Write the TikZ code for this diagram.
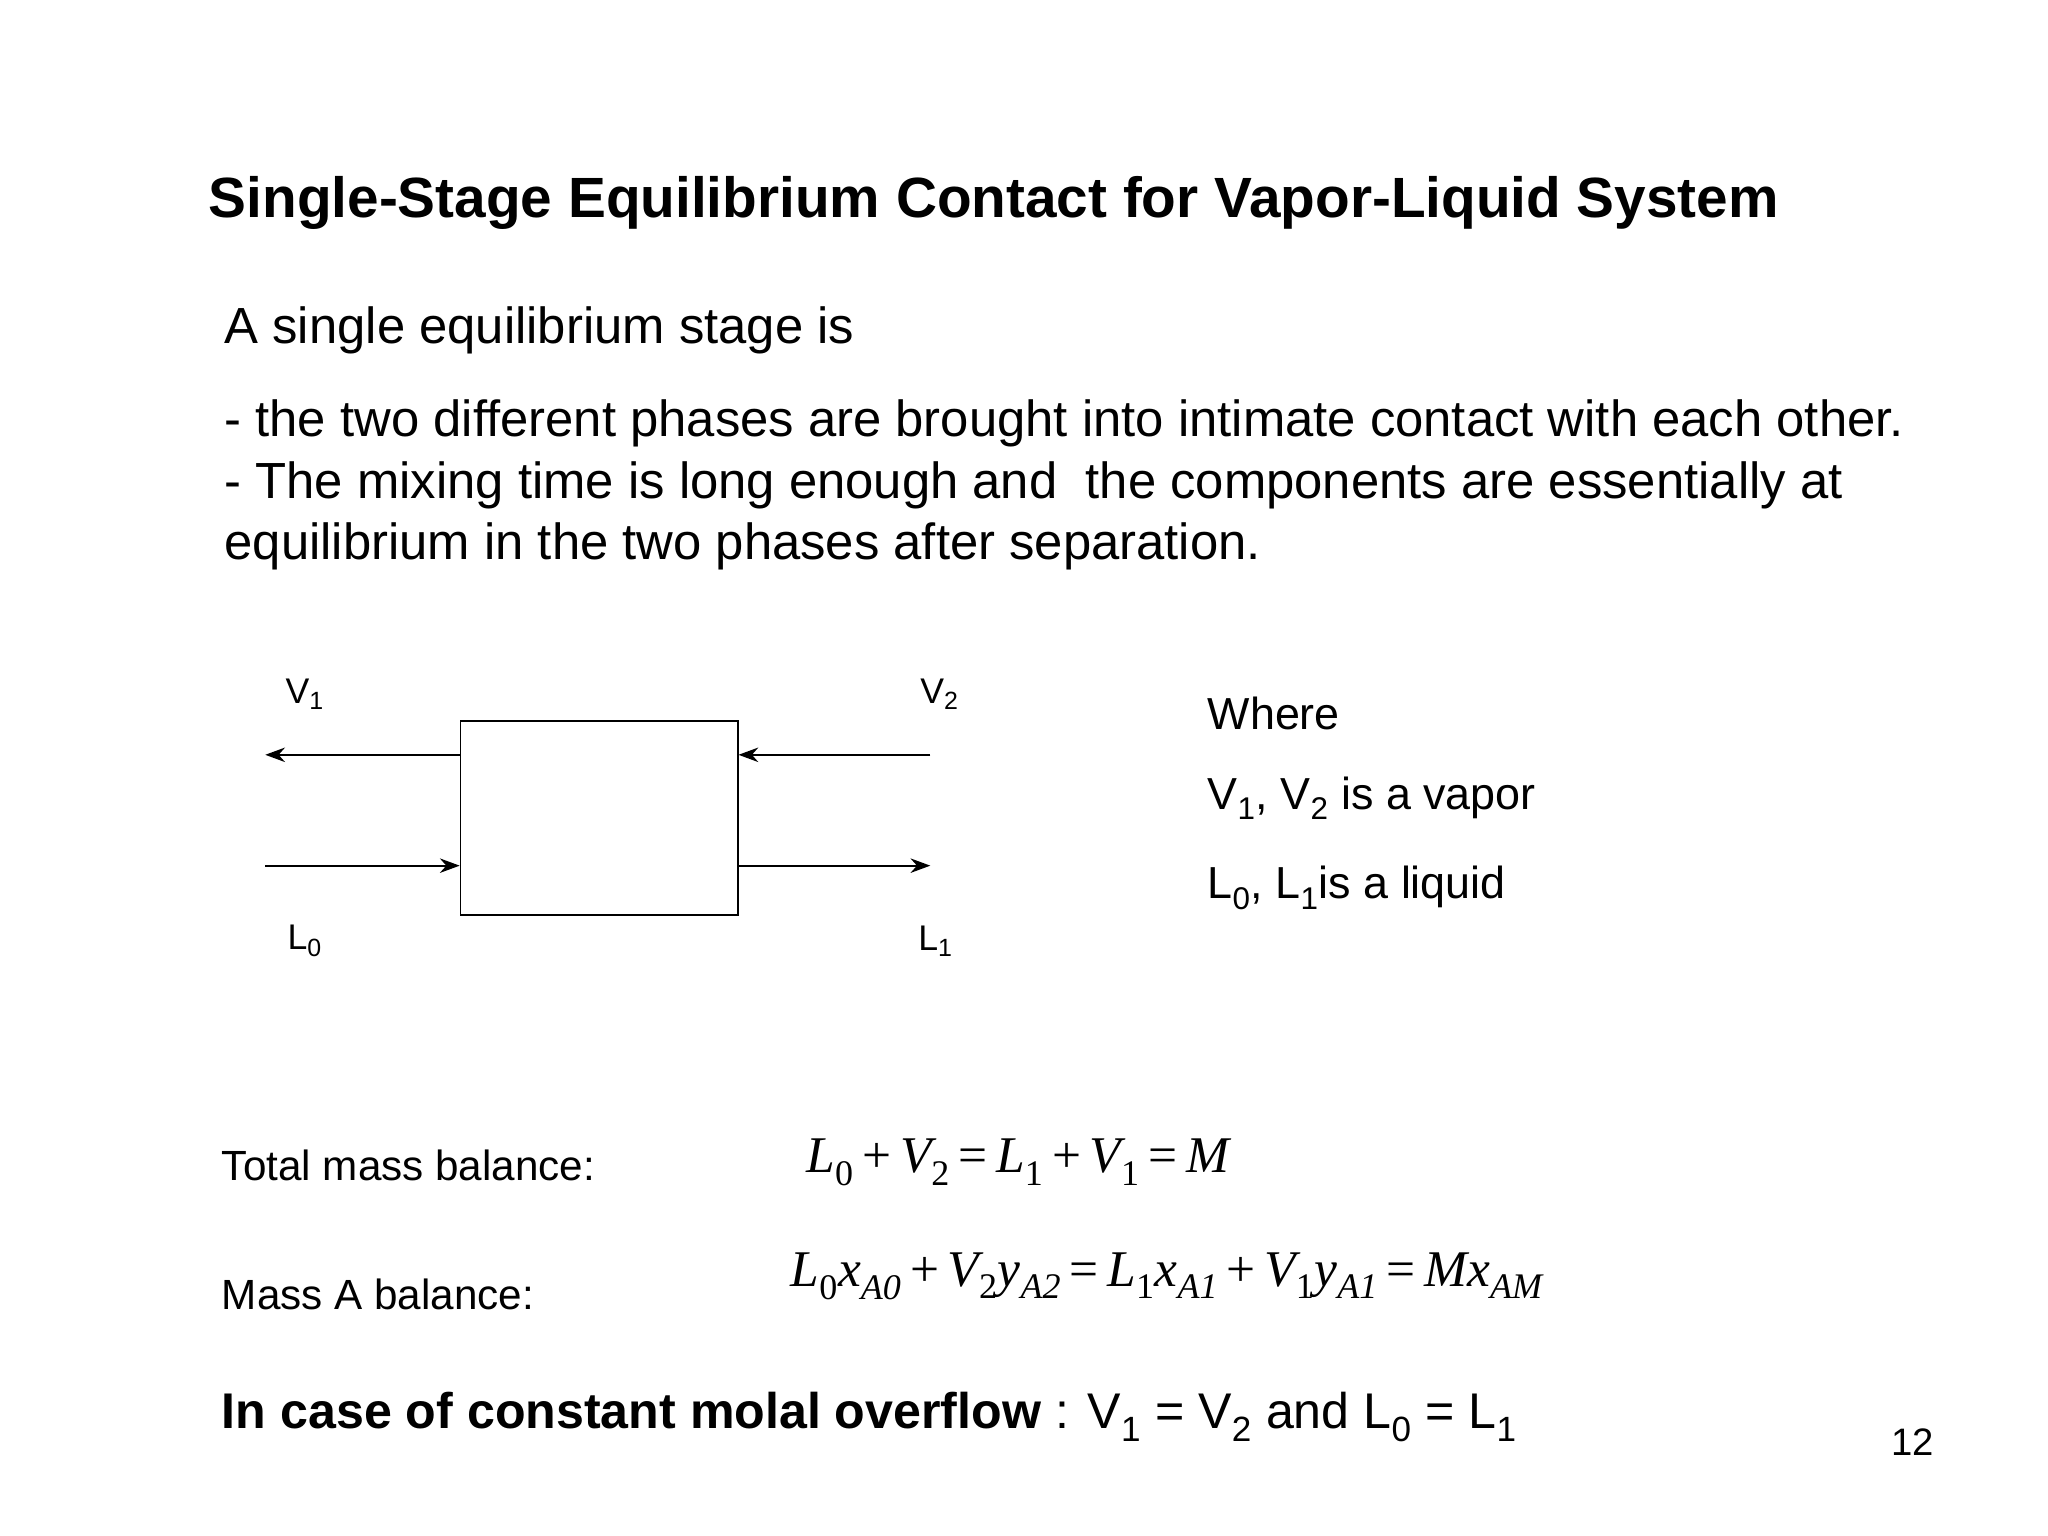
\documentclass[tikz,border=0pt]{standalone}
\usepackage{fontspec}
\usetikzlibrary{arrows.meta}
\setmainfont{Liberation Sans}
\newfontfamily\tms{Liberation Serif}
\newcommand{\vi}[1]{{\tms\itshape #1}}
\newcommand{\sbs}[1]{\textsubscript{#1}}
\newcommand{\isb}[1]{\textsubscript{\tms\itshape #1}}
\newcommand{\rsb}[1]{\textsubscript{\tms #1}}
\newcommand{\op}[1]{\,{\tms #1}\,}
\begin{document}
\begin{tikzpicture}[x=1pt,y=-1pt,
  txt/.style={anchor=west,inner sep=0pt},
  lab/.style={inner sep=0pt,font=\fontsize{27}{30}\selectfont},
  arr/.style={-{Stealth[length=15pt,width=11pt]},line width=1.3pt}]
\useasboundingbox[fill=white] (0,0) rectangle (1552,1164);
\node[txt,font=\fontsize{43}{46}\bfseries\selectfont] (title) at (158,154) {Single-Stage Equilibrium Contact for Vapor-Liquid System};
\node[txt,font=\fontsize{38.5}{42}\selectfont] (t1) at (170,250) {A single equilibrium stage is};
\node[txt,font=\fontsize{38.5}{42}\selectfont] (t2) at (170,321) {- the two different phases are brought into intimate contact with each other.};
\node[txt,font=\fontsize{38.5}{42}\selectfont] (t3) at (170,368) {- The mixing time is long enough and\ \ the components are essentially at};
\node[txt,font=\fontsize{38.5}{42}\selectfont] (t4) at (170,414) {equilibrium in the two phases after separation.};
\node[draw,line width=1.3pt,minimum width=210pt,minimum height=147pt,inner sep=0pt] (box) at (454,620) {};
\coordinate (v1e) at (201,572); \coordinate (v2s) at (705,572);
\coordinate (l0s) at (201,656); \coordinate (l1e) at (705,656);
\draw[arr] (box.west |- v1e) -- (v1e);
\draw[arr] (v2s) -- (box.east |- v2s);
\draw[arr] (l0s) -- (box.west |- l0s);
\draw[arr] (box.east |- l1e) -- (l1e);
\node[lab] (V1) at (231,526) {V\sbs{1}};
\node[lab] (V2) at (712,526) {V\sbs{2}};
\node[lab] (L0) at (231,713) {L\sbs{0}};
\node[lab] (L1) at (709,713) {L\sbs{1}};
\node[txt,font=\fontsize{34}{38}\selectfont] (w1) at (915,541) {Where};
\node[txt,font=\fontsize{34}{38}\selectfont] (w2) at (915,605) {V\sbs{1}, V\sbs{2} is a vapor};
\node[txt,font=\fontsize{34}{38}\selectfont] (w3) at (915,673) {L\sbs{0}, L\sbs{1}is a liquid};
\node[txt,font=\fontsize{32}{34}\selectfont] (m1) at (168,883) {Total mass balance:};
\node[txt,font=\fontsize{39}{42}\selectfont] (e1) at (611,881) {\vi{L}\rsb{0}\op{+}\vi{V}\rsb{2}\op{=}\vi{L}\rsb{1}\op{+}\vi{V}\rsb{1}\op{=}\vi{M}};
\node[txt,font=\fontsize{32}{34}\selectfont] (m2) at (168,981) {Mass A balance:};
\node[txt,font=\fontsize{39}{42}\selectfont] (e2) at (599,967) {\vi{L}\rsb{0}\vi{x}\isb{A0}\op{+}\vi{V}\rsb{2}\vi{y}\isb{A2}\op{=}\vi{L}\rsb{1}\vi{x}\isb{A1}\op{+}\vi{V}\rsb{1}\vi{y}\isb{A1}\op{=}\vi{Mx}\isb{AM}};
\node[txt,font=\fontsize{38}{41}\selectfont] (c) at (168,1074) {\textbf{In case of constant molal overflow} : V\sbs{1} = V\sbs{2} and L\sbs{0} = L\sbs{1}};
\node[txt,font=\fontsize{29}{31}\selectfont] (pg) at (1433,1093) {12};
\end{tikzpicture}
\end{document}
